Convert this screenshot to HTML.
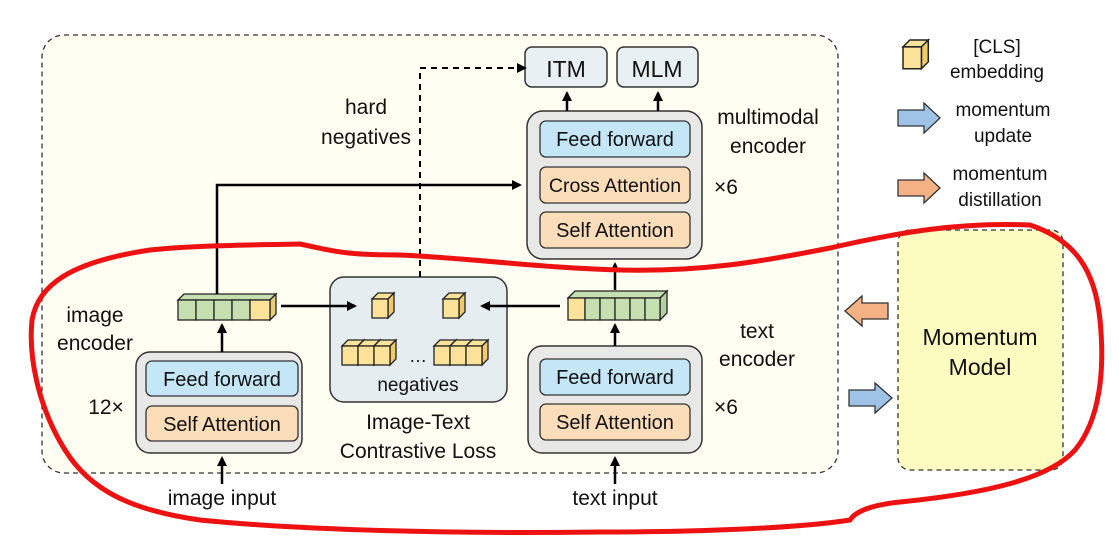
<!DOCTYPE html>
<html><head><meta charset="utf-8"><style>
html,body{margin:0;padding:0;background:#fff;}
svg{display:block;}
text{font-family:"Liberation Sans",sans-serif;fill:#111;}
</style></head><body>
<svg width="1119" height="544" viewBox="0 0 1119 544" xmlns="http://www.w3.org/2000/svg">
<defs>
<marker id="ah" markerWidth="10" markerHeight="10" refX="8" refY="5" orient="auto" markerUnits="userSpaceOnUse">
<path d="M0,0 L10,5 L0,10 z" fill="#000"/></marker>
<g id="cy"><path d="M0,6 L6,0 L22,0 L16,6 Z" fill="#fbe39a" stroke="#222" stroke-width="1.3"/><path d="M16,6 L22,0 L22,19 L16,25 Z" fill="#f0c96a" stroke="#222" stroke-width="1.3"/><rect x="0" y="6" width="16" height="19" fill="#fde39a" stroke="#222" stroke-width="1.3"/></g>
</defs>
<rect x="42" y="35" width="796" height="438" rx="22" fill="#fefef2" stroke="#333" stroke-width="1.3" stroke-dasharray="5,4"/>
<rect x="898" y="230" width="165" height="240" rx="12" fill="#fdfcc0" stroke="#333" stroke-width="1.3" stroke-dasharray="5,4"/>
<text x="980" y="345" font-size="23" text-anchor="middle">Momentum</text>
<text x="980" y="375" font-size="23" text-anchor="middle">Model</text>

<rect x="525" y="47" width="82" height="40" rx="7" fill="#e9f0f3" stroke="#333" stroke-width="1.5"/>
<text x="566" y="77" font-size="23" text-anchor="middle">ITM</text>
<rect x="617" y="47" width="81" height="40" rx="7" fill="#e9f0f3" stroke="#333" stroke-width="1.5"/>
<text x="657" y="77" font-size="23" text-anchor="middle">MLM</text>

<rect x="527" y="111" width="175" height="148" rx="16" fill="#e8e8e6" stroke="#333" stroke-width="1.5"/>
<rect x="540" y="121" width="150" height="36" rx="6" fill="#c4e6f6" stroke="#333" stroke-width="1.3"/>
<text x="615" y="146" font-size="20" text-anchor="middle">Feed forward</text>
<rect x="540" y="167" width="150" height="36" rx="6" fill="#fbddb9" stroke="#333" stroke-width="1.3"/>
<text x="615" y="192" font-size="19.5" text-anchor="middle">Cross Attention</text>
<rect x="540" y="212" width="150" height="36" rx="6" fill="#fbddb9" stroke="#333" stroke-width="1.3"/>
<text x="615" y="237" font-size="20" text-anchor="middle">Self Attention</text>
<text x="768" y="124" font-size="21" text-anchor="middle">multimodal</text>
<text x="768" y="153" font-size="21" text-anchor="middle">encoder</text>
<text x="726" y="194" font-size="21" text-anchor="middle">×6</text>

<rect x="136" y="352" width="166" height="101" rx="14" fill="#e8e8e6" stroke="#333" stroke-width="1.5"/>
<rect x="146" y="361" width="152" height="35" rx="6" fill="#c4e6f6" stroke="#333" stroke-width="1.3"/>
<text x="222" y="386" font-size="20" text-anchor="middle">Feed forward</text>
<rect x="146" y="406" width="152" height="35" rx="6" fill="#fbddb9" stroke="#333" stroke-width="1.3"/>
<text x="222" y="431" font-size="20" text-anchor="middle">Self Attention</text>
<text x="95" y="322" font-size="21" text-anchor="middle">image</text>
<text x="95" y="350" font-size="21" text-anchor="middle">encoder</text>
<text x="106" y="414" font-size="21" text-anchor="middle">12×</text>

<rect x="528" y="346" width="174" height="107" rx="14" fill="#e8e8e6" stroke="#333" stroke-width="1.5"/>
<rect x="540" y="359" width="150" height="36" rx="6" fill="#c4e6f6" stroke="#333" stroke-width="1.3"/>
<text x="615" y="384" font-size="20" text-anchor="middle">Feed forward</text>
<rect x="540" y="404" width="150" height="36" rx="6" fill="#fbddb9" stroke="#333" stroke-width="1.3"/>
<text x="615" y="429" font-size="20" text-anchor="middle">Self Attention</text>
<text x="757" y="338" font-size="21" text-anchor="middle">text</text>
<text x="757" y="366" font-size="21" text-anchor="middle">encoder</text>
<text x="726" y="414" font-size="21" text-anchor="middle">×6</text>

<rect x="330" y="277" width="177" height="125" rx="14" fill="#e5edf1" stroke="#333" stroke-width="1.5"/>
<use href="#cy" x="372" y="293"/>
<use href="#cy" x="443" y="293"/>
<use href="#cy" x="342" y="340"/><use href="#cy" x="358" y="340"/><use href="#cy" x="374" y="340"/>
<text x="418" y="362" font-size="18" text-anchor="middle">…</text>
<use href="#cy" x="434" y="340"/><use href="#cy" x="450" y="340"/><use href="#cy" x="466" y="340"/>
<text x="418" y="391" font-size="19" text-anchor="middle">negatives</text>
<text x="418" y="429" font-size="21" text-anchor="middle">Image-Text</text>
<text x="418" y="458" font-size="21" text-anchor="middle">Contrastive Loss</text>

<g stroke="#222" stroke-width="1.3">
<path d="M178,300 L184,294 L276,294 L270,300 Z" fill="#c6dfb0"/>
<path d="M270,300 L276,294 L276,314 L270,320 Z" fill="#e8cd7a"/>
<rect x="178" y="300" width="18" height="20" fill="#c6dfb0"/>
<rect x="196" y="300" width="18" height="20" fill="#c6dfb0"/>
<rect x="214" y="300" width="18" height="20" fill="#c6dfb0"/>
<rect x="232" y="300" width="18" height="20" fill="#c6dfb0"/>
<rect x="250" y="300" width="20" height="20" fill="#fde39a"/>
<path d="M568,298 L575,291 L667,291 L660,298 Z" fill="#c6dfb0"/>
<path d="M660,298 L667,291 L667,313 L660,320 Z" fill="#b5cfa0"/>
<rect x="568" y="298" width="17" height="22" fill="#fde39a"/>
<rect x="585" y="298" width="15" height="22" fill="#c6dfb0"/>
<rect x="600" y="298" width="15" height="22" fill="#c6dfb0"/>
<rect x="615" y="298" width="15" height="22" fill="#c6dfb0"/>
<rect x="630" y="298" width="15" height="22" fill="#c6dfb0"/>
<rect x="645" y="298" width="15" height="22" fill="#c6dfb0"/>
</g>

<g stroke="#000" stroke-width="2.5" fill="none">
<path d="M217,294 L217,185 L520,185" marker-end="url(#ah)"/>
<path d="M281,306 L355,306" marker-end="url(#ah)"/>
<path d="M560,306 L482,306" marker-end="url(#ah)"/>
<path d="M567,111 L567,93" marker-end="url(#ah)"/>
<path d="M658,111 L658,93" marker-end="url(#ah)"/>
<path d="M615,290 L615,264" marker-end="url(#ah)"/>
<path d="M222,352 L222,325" marker-end="url(#ah)"/>
<path d="M615,346 L615,325" marker-end="url(#ah)"/>
<path d="M222,484 L222,458" marker-end="url(#ah)"/>
<path d="M615,484 L615,458" marker-end="url(#ah)"/>
<path d="M420,277 L420,68 L518,68" stroke-dasharray="6,5" stroke-width="2"/>
</g>
<path d="M527,68 L517,63 L517,73 z" fill="#000"/>
<text x="366" y="114" font-size="21" text-anchor="middle">hard</text>
<text x="366" y="144" font-size="21" text-anchor="middle">negatives</text>
<text x="222" y="505" font-size="21" text-anchor="middle">image input</text>
<text x="615" y="505" font-size="21" text-anchor="middle">text input</text>

<g transform="translate(903,40) scale(1.15)"><use href="#cy" x="0" y="0"/></g>
<text x="997" y="53" font-size="19" text-anchor="middle">[CLS]</text>
<text x="997" y="78" font-size="19" text-anchor="middle">embedding</text>
<path d="M898,110 L924,110 L924,103 L940,118 L924,133 L924,126 L898,126 Z" fill="#9ec3e6" stroke="#333" stroke-width="1.3"/>
<text x="1003" y="116" font-size="19" text-anchor="middle">momentum</text>
<text x="1003" y="142" font-size="19" text-anchor="middle">update</text>
<path d="M898,180 L924,180 L924,173 L940,188 L924,203 L924,196 L898,196 Z" fill="#f4b183" stroke="#333" stroke-width="1.3"/>
<text x="1000" y="180" font-size="19" text-anchor="middle">momentum</text>
<text x="1000" y="206" font-size="19" text-anchor="middle">distillation</text>
<path d="M888,303 L862,303 L862,296 L845,311 L862,326 L862,319 L888,319 Z" fill="#f4b183" stroke="#333" stroke-width="1.3"/>
<path d="M849,390 L875,390 L875,383 L892,398 L875,413 L875,406 L849,406 Z" fill="#9ec3e6" stroke="#333" stroke-width="1.3"/>

<path d="M150,250 C200,245 260,245 300,244 C330,250 340,255 400,255 C470,258 540,268 620,270 C700,272 760,262 830,248 C900,232 960,222 1030,225 C1075,240 1095,270 1100,320 C1105,370 1100,420 1075,450 C1050,478 990,493 900,502 C870,505 855,512 850,520 C800,528 700,532 600,532 C450,534 300,530 200,520 C130,510 90,490 65,450 C40,410 28,360 32,320 C38,285 70,262 150,250 Z" fill="none" stroke="#ee1111" stroke-width="5"/>
</svg>
</body></html>
